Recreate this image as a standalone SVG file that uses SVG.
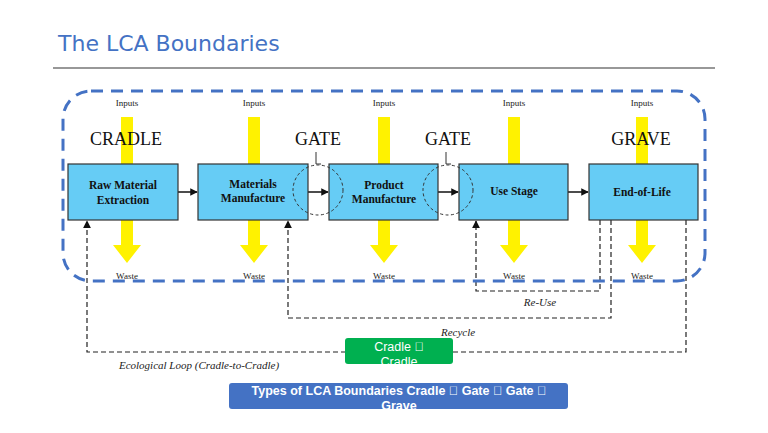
<svg xmlns="http://www.w3.org/2000/svg" width="768" height="433" viewBox="0 0 768 433">
<defs>
<style>
.title{font-family:"DejaVu Sans",Verdana,sans-serif;font-size:22px;fill:#4472C4}
.box{fill:#66CCF5;stroke:#333;stroke-width:1.2}
.bt{font-family:"Liberation Serif","Times New Roman",serif;font-size:11.5px;fill:#111;text-anchor:middle;font-weight:bold}
.big{font-family:"Liberation Serif","Times New Roman",serif;font-size:18px;fill:#111;text-anchor:middle}
.sm{font-family:"Liberation Serif","Times New Roman",serif;font-size:9px;fill:#222;text-anchor:middle}
.it{font-family:"Liberation Serif","Times New Roman",serif;font-size:11px;fill:#222;font-style:italic;text-anchor:middle}
.yel{fill:#FFF200}
.dash{fill:none;stroke:#222;stroke-width:1.2;stroke-dasharray:5,3}
.gate{fill:none;stroke:#333;stroke-width:1;stroke-dasharray:3,2.5}
.flow{stroke:#111;stroke-width:1.5;fill:none}
.wt{font-family:"Liberation Sans",Arial,sans-serif;font-size:12.5px;fill:#fff;text-anchor:middle}
</style>
<marker id="ah" viewBox="0 0 10 10" refX="9" refY="5" markerWidth="5" markerHeight="5" orient="auto-start-reverse">
<path d="M0,0 L10,5 L0,10 z" fill="#111"/>
</marker>
<marker id="ah2" viewBox="0 0 10 10" refX="9" refY="5" markerWidth="8" markerHeight="8" orient="auto-start-reverse" markerUnits="userSpaceOnUse">
<path d="M0,0 L10,5 L0,10 z" fill="#111"/>
</marker>
<symbol id="yarrow" overflow="visible">
<path d="M-6,0 H6 V128 H14 L0,146 L-14,128 H-6 Z" class="yel"/>
</symbol>
</defs>
<rect width="768" height="433" fill="#fff"/>
<text class="title" x="58" y="51">The LCA Boundaries</text>
<line x1="53" y1="68" x2="715" y2="68" stroke="#333" stroke-width="1.2"/>

<g id="yellow-arrows">
<use href="#yarrow" x="127" y="117"/>
<use href="#yarrow" x="254" y="117"/>
<use href="#yarrow" x="384" y="117"/>
<use href="#yarrow" x="514" y="117"/>
<use href="#yarrow" x="642" y="117"/>
</g>

<g id="labels">
<text class="sm" x="127" y="106">Inputs</text>
<text class="sm" x="254" y="106">Inputs</text>
<text class="sm" x="384" y="106">Inputs</text>
<text class="sm" x="514" y="106">Inputs</text>
<text class="sm" x="642" y="106">Inputs</text>
<text class="sm" x="127" y="279">Waste</text>
<text class="sm" x="254" y="279">Waste</text>
<text class="sm" x="384" y="279">Waste</text>
<text class="sm" x="514" y="279">Waste</text>
<text class="sm" x="642" y="279">Waste</text>
<text class="big" x="126" y="145">CRADLE</text>
<text class="big" x="318" y="145">GATE</text>
<text class="big" x="448" y="145">GATE</text>
<text class="big" x="641" y="145">GRAVE</text>
</g>

<g id="connectors">
<line class="flow" x1="178" y1="192" x2="197" y2="192" marker-end="url(#ah)"/>
<line class="flow" x1="308" y1="192" x2="328" y2="192" marker-end="url(#ah)"/>
<line class="flow" x1="438" y1="192" x2="458" y2="192" marker-end="url(#ah)"/>
<line class="flow" x1="568" y1="192" x2="588" y2="192" marker-end="url(#ah)"/>
<path class="dash" d="M600,220 V291 H476 V221" marker-end="url(#ah2)"/>
<path class="dash" d="M611,220 V318 H288 V221" marker-end="url(#ah2)"/>
<path class="dash" d="M686,220 V352 H87 V221" marker-end="url(#ah2)"/>
<path d="M316,152 V164 H321" fill="none" stroke="#333" stroke-width="1"/>
<path d="M446,152 V164 H451" fill="none" stroke="#333" stroke-width="1"/>
</g>

<g id="raw-material"><rect class="box" x="68" y="164" width="110" height="56"/>
<text class="bt" x="123" y="189">Raw Material</text><text class="bt" x="123" y="204">Extraction</text></g>
<g id="materials-manufacture"><rect class="box" x="198" y="164" width="110" height="56"/>
<text class="bt" x="253" y="188">Materials</text><text class="bt" x="253" y="202">Manufacture</text></g>
<g id="product-manufacture"><rect class="box" x="329" y="164" width="109" height="56"/>
<text class="bt" x="384" y="189">Product</text><text class="bt" x="384" y="203">Manufacture</text></g>
<g id="use-stage"><rect class="box" x="459" y="164" width="109" height="56"/>
<text class="bt" x="514" y="195">Use Stage</text></g>
<g id="end-of-life"><rect class="box" x="589" y="164" width="109" height="56"/>
<text class="bt" x="642" y="196">End-of-Life</text></g>

<g id="gates">
<circle class="gate" cx="318" cy="190" r="25"/>
<circle class="gate" cx="448" cy="190" r="25"/>
</g>

<rect x="63" y="91" width="642" height="190" rx="28" fill="none" stroke="#4472C4" stroke-width="3" stroke-dasharray="12,8"/>

<g id="loop-labels">
<text class="it" x="540" y="306">Re-Use</text>
<text class="it" x="458" y="336">Recycle</text>
<text class="it" x="199" y="369">Ecological Loop (Cradle-to-Cradle)</text>
</g>

<g id="cradle-cradle">
<rect x="345" y="338" width="108" height="26" rx="3" fill="#00B050"/>
<svg x="345" y="338" width="108" height="26" overflow="hidden">
<text class="wt" x="54" y="13" font-size="13">Cradle &#xF0E0;</text>
<text class="wt" x="54" y="28" font-size="13">Cradle</text>
</svg>
</g>

<g id="types">
<rect x="229" y="383" width="339" height="26" rx="3" fill="#4472C4"/>
<svg x="229" y="383" width="339" height="26" overflow="hidden">
<text class="wt" x="170" y="12" font-weight="bold">Types of LCA Boundaries Cradle &#xF0E0; Gate &#xF0E0; Gate &#xF0E0;</text>
<text class="wt" x="170" y="27" font-weight="bold">Grave</text>
</svg>
</g>
</svg>
